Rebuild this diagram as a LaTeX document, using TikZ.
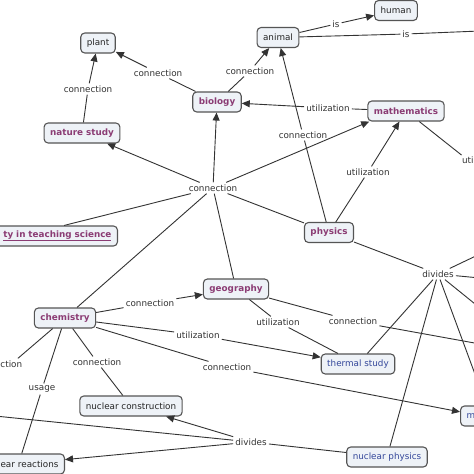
\documentclass[tikz,border=0pt]{standalone}
\usepackage{fontspec}
\setmainfont{DejaVu Sans}
\usetikzlibrary{arrows.meta}
\definecolor{nfill}{HTML}{EEF2F7}
\definecolor{nbord}{HTML}{555555}
\definecolor{purp}{HTML}{8B3C74}
\definecolor{blu}{HTML}{34479A}
\definecolor{ln}{HTML}{333333}
\begin{document}
\begin{tikzpicture}[x=1pt,y=-1pt,
 font=\fontsize{8.8}{10}\selectfont,
 concept/.style={draw=nbord, line width=1.1pt, fill=nfill, rounded corners=4pt, inner xsep=6pt, inner ysep=2pt, minimum height=20pt, text=black!85},
 main/.style={concept, text=purp, font=\fontsize{8.8}{10}\selectfont\bfseries},
 leaf/.style={concept, text=blu},
 phrase/.style={inner sep=2pt, text=black!80},
 link/.style={draw=ln, line width=0.9pt},
 arr/.style={link, -{Triangle[length=8pt,width=7pt]}},
]
\useasboundingbox[fill=white] (0,0) rectangle (474,474);

% concepts
\node[concept] (plant) at (98,43) {plant};
\node[concept] (human) at (396,10.5) {human};
\node[concept] (animal) at (278,37.5) {animal};
\node[main] (biology) at (217,102) {biology};
\node[main] (math) at (406,111) {mathematics};
\node[main] (nature) at (82,133) {nature study};
\node[main, anchor=east, text width=140pt, align=right] (creat) at (118,236) {\underline{ty in teaching science}};
\node[main] (physics) at (329,232.5) {physics};
\node[main] (geo) at (236,289) {geography};
\node[main] (chem) at (65,318) {chemistry};
\node[leaf] (thermal) at (358,364) {thermal study};
\node[concept] (nconst) at (131,406) {nuclear construction};
\node[concept, anchor=east, text width=80pt, align=right] (nreact) at (65,464) {ear reactions};
\node[leaf] (nphys) at (387,457) {nuclear physics};
\node[leaf, anchor=west, text width=30pt, align=left] (mnode) at (460,416) {m};

% linking phrases
\node[phrase] (c1) at (158,73) {connection};
\node[phrase] (c2) at (88,89) {connection};
\node[phrase] (c3) at (250,71) {connection};
\node[phrase] (is1) at (336,24) {is};
\node[phrase] (is2) at (406,34) {is};
\node[phrase] (u1) at (328,108) {utilization};
\node[phrase] (c4) at (303,135) {connection};
\node[phrase] (u2) at (368,172) {utilization};
\node[phrase, anchor=east, inner xsep=0.3pt] (u3) at (474,160) {uti};
\node[phrase] (cc) at (213,188) {connection};
\node[phrase] (dv1) at (438,274) {divides};
\node[phrase] (c5) at (150,303) {connection};
\node[phrase] (u4) at (278,322) {utilization};
\node[phrase] (c6) at (353,321) {connection};
\node[phrase] (u5) at (198,335) {utilization};
\node[phrase] (c7) at (227,367) {connection};
\node[phrase] (c8) at (97,362) {connection};
\node[phrase] (usage) at (42,389) {usage};
\node[phrase, anchor=west, inner xsep=0.3pt] (c9) at (0,364) {ction};
\node[phrase] (dv2) at (251,442) {divides};

% off-canvas ends
\coordinate (oR1) at (480,31);
\coordinate (oR2) at (480,254);
\coordinate (oR3) at (480,278);
\coordinate (oR4) at (480,308);
\coordinate (oR5) at (479,385);
\coordinate (oR6) at (480,344);
\coordinate (oL1) at (-5,416);

% connectors
\draw[link] (biology) -- (c1); \draw[arr] (c1) -- (plant);
\draw[link] (nature) -- (c2); \draw[arr] (c2) -- (plant);
\draw[link] (biology) -- (c3); \draw[arr] (c3) -- (animal);
\draw[link] (animal) -- (is1); \draw[arr] (is1) -- (human);
\draw[link] (animal) -- (is2); \draw[link] (is2) -- (oR1);
\draw[link] (math) -- (u1); \draw[arr] (u1) -- (biology);
\draw[link] (physics) -- (c4); \draw[arr] (c4) -- (animal);
\draw[link] (physics) -- (u2); \draw[arr] (u2) -- (math);
\draw[link] (math) -- (u3);

\draw[link] (creat.25) -- (cc);
\draw[link] (physics) -- (cc);
\draw[link] (geo) -- (cc);
\draw[link] (chem) -- (cc);
\draw[arr] (cc) -- (biology);
\draw[arr] (cc) -- (nature);
\draw[arr] (cc) -- (math.196);

\draw[link] (physics) -- (dv1);
\draw[link] (dv1) -- (thermal);
\draw[link] (dv1) -- (nphys);
\draw[link] (dv1) -- (oR2);
\draw[link] (dv1) -- (oR3);
\draw[link] (dv1) -- (oR4);
\draw[link] (dv1) -- (oR5);

\draw[link] (chem) -- (c5); \draw[arr] (c5) -- (geo);
\draw[link] (geo) -- (u4); \draw[link] (u4) -- (thermal);
\draw[link] (geo) -- (c6); \draw[link] (c6) -- (oR6);
\draw[link] (chem) -- (u5); \draw[arr] (u5) -- (thermal);
\draw[link] (chem) -- (c7); \draw[arr] (c7) -- (mnode);
\draw[link] (chem) -- (c8); \draw[link] (c8) -- (nconst);
\draw[link] (chem) -- (usage); \draw[link] (usage) -- (nreact);
\draw[link] (chem) -- (c9);

\draw[link] (nphys) -- (dv2);
\draw[arr] (dv2) -- (nconst);
\draw[arr] (dv2) -- (nreact);
\draw[link] (oL1) -- (dv2);
\end{tikzpicture}
\end{document}
